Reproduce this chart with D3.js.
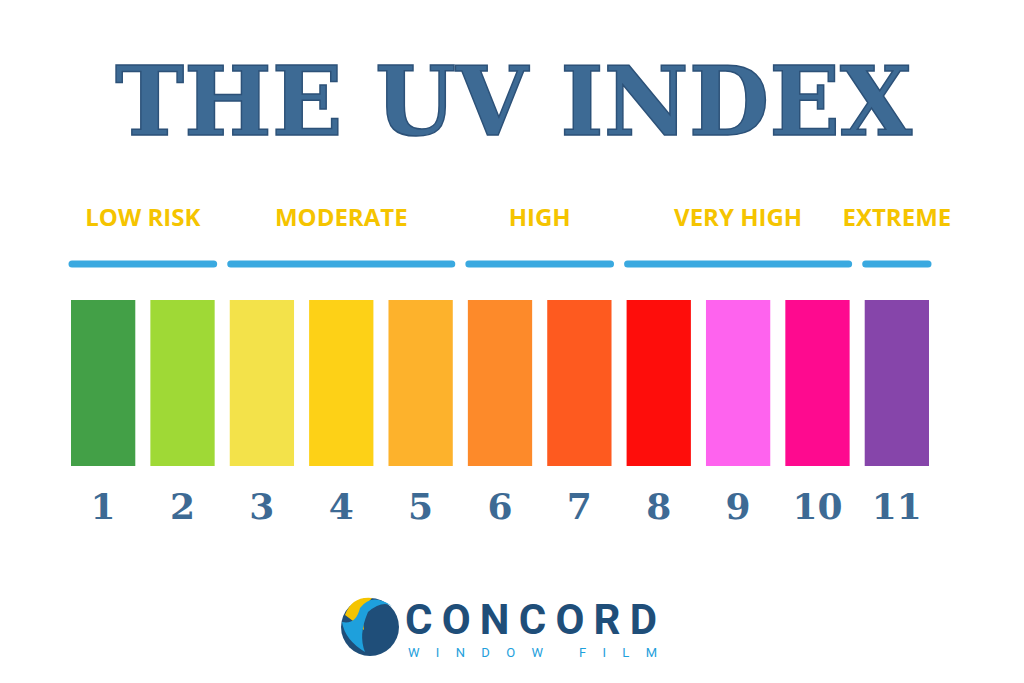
<!DOCTYPE html><html><head><meta charset="utf-8"><script src="https://cdn.jsdelivr.net/npm/d3@7"></script>
<style>body{margin:0;background:#fff}</style></head><body><svg id="c" width="1024" height="683"></svg>
<script>
const levels=["1","2","3","4","5","6","7","8","9","10","11"];
const colors=["#43a047","#9fd936","#f3e24a","#fdd117","#fdb22c","#fd8a2a","#fe5a1f","#fe0d0b","#fe63ee","#fe0a8f","#8645aa"];
const groups=[{name:"LOW RISK",from:"1",to:"2"},{name:"MODERATE",from:"3",to:"5"},{name:"HIGH",from:"6",to:"7"},{name:"VERY HIGH",from:"8",to:"10"},{name:"EXTREME",from:"11",to:"11"}];
const svg=d3.select("#c");
const x=d3.scaleBand().domain(levels).range([71,929]).paddingInner(0.19);
const blue="#3d6a94";
svg.append("text").attr("x",115).attr("y",135).attr("font-family","DejaVu Serif").attr("font-weight","bold").attr("font-size",96).attr("textLength",797).attr("lengthAdjust","spacingAndGlyphs").attr("fill",blue).attr("stroke","#2c5178").attr("stroke-width",1.5).text("THE UV INDEX");
svg.selectAll("rect.bar").data(levels).join("rect").attr("x",d=>x(d)).attr("y",300).attr("width",x.bandwidth()).attr("height",166).attr("fill",(d,i)=>colors[i]);
svg.selectAll("text.num").data(levels).join("text").attr("x",d=>x(d)+x.bandwidth()/2).attr("y",519).attr("text-anchor","middle").attr("font-family","DejaVu Serif").attr("font-weight","bold").attr("font-size",36).attr("fill",blue).text(d=>d);
const g=svg.selectAll("g.grp").data(groups).join("g");
g.append("line").attr("x1",d=>x(d.from)+1).attr("x2",d=>x(d.to)+x.bandwidth()-1).attr("y1",264).attr("y2",264).attr("stroke","#3aa9e0").attr("stroke-width",7).attr("stroke-linecap","round");
g.append("text").attr("x",d=>(x(d.from)+x(d.to)+x.bandwidth())/2).attr("y",226).attr("text-anchor","middle").attr("font-family","Open Sans").attr("font-weight","bold").attr("font-size",24).attr("fill","#f5c400").text(d=>d.name);
const L=svg.append("g");
L.append("circle").attr("cx",370).attr("cy",627).attr("r",29).attr("fill","#1f4e79");
L.append("path").attr("d","M345,615 Q352,596 372,598 Q360,610 364,630 Q355,622 345,615Z").attr("fill","#f5c400");
L.append("path").attr("d","M342,622 Q345,640 365,652 Q358,635 368,612 Q382,600 392,606 Q372,592 360,608 Q356,625 342,622Z").attr("fill","#1ea0dc");
L.append("text").attr("x",405).attr("y",634).attr("font-family","Roboto").attr("font-weight","bold").attr("font-size",42).attr("fill","#1f4e79").attr("textLength",252).text("CONCORD");
L.append("text").attr("x",408).attr("y",657).attr("font-family","Roboto").attr("font-size",13).attr("fill","#1ea0dc").attr("textLength",249).text("WINDOW FILM");
</script></body></html>
